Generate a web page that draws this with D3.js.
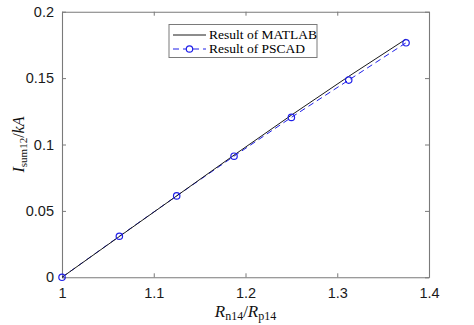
<!DOCTYPE html>
<html>
<head>
<meta charset="utf-8">
<script src="https://cdn.jsdelivr.net/npm/d3@7"></script>
<style>
  html, body { margin: 0; padding: 0; background: #fff; }
  svg { display: block; }
</style>
</head>
<body>
<svg id="chart" width="474" height="325"></svg>
<script>
// Resistance ratio Rn14/Rp14 at which the summed current was evaluated
const ratio = [1, 1.0625, 1.125, 1.1875, 1.25, 1.3125, 1.375];
// Summed current Isum12 in kA from the MATLAB calculation
const matlabCurrent = [0, 0.0307, 0.0613, 0.0920, 0.1221, 0.1513, 0.1794];
// Summed current Isum12 in kA from the PSCAD simulation
const pscadCurrent = [0, 0.0309, 0.0613, 0.0912, 0.1204, 0.1485, 0.1766];

const xTicks = [1, 1.1, 1.2, 1.3, 1.4];
const yTicks = [0, 0.05, 0.1, 0.15, 0.2];
const legendLabels = ["Result of MATLAB", "Result of PSCAD"];

const svg = d3.select("#chart");
const plot = { left: 62, right: 429, top: 11.7, bottom: 277.3 };

const x = d3.scaleLinear().domain([1, 1.4]).range([plot.left, plot.right]);
const y = d3.scaleLinear().domain([0, 0.2]).range([plot.bottom, plot.top]);

const axisColor = "#7a7a7a";
const tickFont = "'Liberation Sans', Arial, sans-serif";
const serif = "'Liberation Serif', 'Times New Roman', serif";
const blue = "#1f1fe8";

// Axes: ticks point inward, mirrored on the opposite sides
const tickLen = 4;
const bottomAxis = d3.axisBottom(x).tickValues(xTicks).tickSizeInner(-tickLen).tickSizeOuter(0)
  .tickPadding(10).tickFormat(d3.format("~g"));
const leftAxis = d3.axisLeft(y).tickValues(yTicks).tickSizeInner(-tickLen).tickSizeOuter(0)
  .tickPadding(8).tickFormat(d3.format("~g"));
const topAxis = d3.axisTop(x).tickValues(xTicks).tickSizeInner(-tickLen).tickSizeOuter(0).tickFormat("");
const rightAxis = d3.axisRight(y).tickValues(yTicks).tickSizeInner(-tickLen).tickSizeOuter(0).tickFormat("");

function styleAxis(g) {
  g.select(".domain").attr("stroke", axisColor).attr("stroke-width", 1.1);
  g.selectAll(".tick line").attr("stroke", axisColor).attr("stroke-width", 1);
  g.selectAll(".tick text").attr("fill", "#1a1a1a")
    .style("font-family", tickFont).style("font-size", "14.5px");
}

svg.append("g").attr("transform", `translate(0,${plot.bottom})`).call(bottomAxis).call(styleAxis);
svg.append("g").attr("transform", `translate(${plot.left},0)`).call(leftAxis).call(styleAxis);
svg.append("g").attr("transform", `translate(0,${plot.top})`).call(topAxis).call(styleAxis);
svg.append("g").attr("transform", `translate(${plot.right},0)`).call(rightAxis).call(styleAxis);

// Series
const matlabPts = ratio.map((r, i) => [r, matlabCurrent[i]]);
const pscadPts = ratio.map((r, i) => [r, pscadCurrent[i]]);
const line = d3.line().x(d => x(d[0])).y(d => y(d[1]));

svg.append("path").datum(pscadPts).attr("d", line)
  .attr("fill", "none").attr("stroke", blue).attr("stroke-width", 1)
  .attr("stroke-dasharray", "6,4");

svg.append("path").datum(matlabPts).attr("d", line)
  .attr("fill", "none").attr("stroke", "#1a1a1a").attr("stroke-width", 1);

svg.append("g").selectAll("circle").data(pscadPts).join("circle")
  .attr("cx", d => x(d[0])).attr("cy", d => y(d[1])).attr("r", 3.2)
  .attr("fill", "none").attr("stroke", blue).attr("stroke-width", 1.2);

// Legend
const legend = svg.append("g");
legend.append("rect").attr("x", 169).attr("y", 24.5).attr("width", 148).attr("height", 33)
  .attr("fill", "#fff").attr("stroke", axisColor).attr("stroke-width", 1);

const rowY = [35, 49];
legend.append("line").attr("x1", 173).attr("x2", 206).attr("y1", rowY[0]).attr("y2", rowY[0])
  .attr("stroke", "#1a1a1a").attr("stroke-width", 1);
legend.append("line").attr("x1", 173).attr("x2", 206).attr("y1", rowY[1]).attr("y2", rowY[1])
  .attr("stroke", blue).attr("stroke-width", 1).attr("stroke-dasharray", "6,4");
legend.append("circle").attr("cx", 189.5).attr("cy", rowY[1]).attr("r", 3.2)
  .attr("fill", "#fff").attr("stroke", blue).attr("stroke-width", 1.2);

legend.selectAll("text.lbl").data(legendLabels).join("text").attr("class", "lbl")
  .attr("x", 209).attr("y", (d, i) => rowY[i] + 4)
  .style("font-family", serif).style("font-size", "13.5px").attr("fill", "#000")
  .text(d => d);

// Axis titles with math-style italics and subscripts
const xLabel = svg.append("text")
  .attr("x", (plot.left + plot.right) / 2).attr("y", 317)
  .attr("text-anchor", "middle")
  .style("font-family", serif).style("font-size", "17px").attr("fill", "#111");
xLabel.append("tspan").style("font-style", "italic").text("R");
xLabel.append("tspan").attr("dy", 3).style("font-size", "12px").text("n14");
xLabel.append("tspan").attr("dy", -3).text("/");
xLabel.append("tspan").style("font-style", "italic").text("R");
xLabel.append("tspan").attr("dy", 3).style("font-size", "12px").text("p14");

const yLabel = svg.append("text")
  .attr("transform", `translate(24,${(plot.top + plot.bottom) / 2}) rotate(-90)`)
  .attr("text-anchor", "middle")
  .style("font-family", serif).style("font-size", "16px").attr("fill", "#111");
yLabel.append("tspan").style("font-style", "italic").text("I");
yLabel.append("tspan").attr("dy", 3).style("font-size", "11px").text("sum12");
yLabel.append("tspan").attr("dy", -3).text("/");
yLabel.append("tspan").style("font-style", "italic").text("kA");
</script>
</body>
</html>
